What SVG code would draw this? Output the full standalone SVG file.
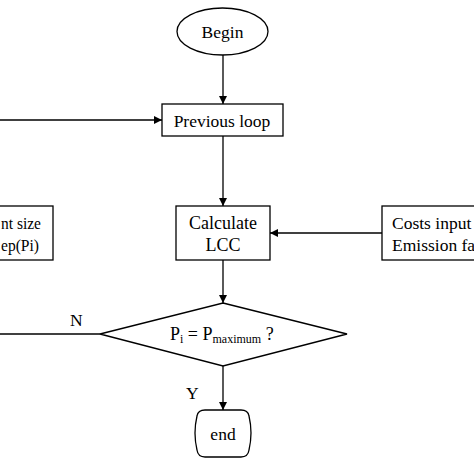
<svg xmlns="http://www.w3.org/2000/svg" width="474" height="474" viewBox="0 0 474 474">
<defs>
<marker id="ah" markerWidth="8" markerHeight="8" refX="8" refY="4" orient="auto" markerUnits="userSpaceOnUse">
<path d="M0,0 L8,4 L0,8 Z" fill="#000"/>
</marker>
<style>
.s{fill:#fff;stroke:#000;stroke-width:1.3}
.t{font-family:"Liberation Serif","Times New Roman",serif;font-size:17.5px;fill:#000}
.c{text-anchor:middle}
.l{stroke:#000;stroke-width:1.3;fill:none}
</style>
</defs>
<rect width="474" height="474" fill="#fff"/>
<g id="connectors">
<line class="l" x1="223" y1="55" x2="223" y2="104" marker-end="url(#ah)"/>
<line class="l" x1="0" y1="120" x2="162" y2="120" marker-end="url(#ah)"/>
<line class="l" x1="223" y1="136" x2="223" y2="206" marker-end="url(#ah)"/>
<line class="l" x1="382" y1="233" x2="270" y2="233" marker-end="url(#ah)"/>
<line class="l" x1="223" y1="260" x2="223" y2="303" marker-end="url(#ah)"/>
<line class="l" x1="0" y1="334" x2="100" y2="334"/>
<line class="l" x1="223" y1="366" x2="223" y2="410" marker-end="url(#ah)"/>
<text class="t" x="70" y="326">N</text>
<text class="t" x="186" y="399">Y</text>
</g>
<g id="begin">
<ellipse class="s" cx="222.5" cy="31.5" rx="45.5" ry="23.5"/>
<text class="t c" x="222.5" y="38">Begin</text>
</g>
<g id="previous-loop">
<rect class="s" x="162" y="104" width="121" height="32"/>
<text class="t c" x="222" y="127">Previous loop</text>
</g>
<g id="left-box">
<rect class="s" x="-20" y="206" width="73" height="54"/>
<text class="t" x="1" y="229" textLength="40" lengthAdjust="spacingAndGlyphs">nt size</text>
<text class="t" x="1" y="251" textLength="38" lengthAdjust="spacingAndGlyphs">ep(Pi)</text>
</g>
<g id="calculate">
<rect class="s" x="176" y="206" width="94" height="54"/>
<text class="t c" x="223" y="229" style="font-size:18px">Calculate</text>
<text class="t c" x="223" y="251" style="font-size:18px">LCC</text>
</g>
<g id="right-box">
<rect class="s" x="382" y="206" width="110" height="54"/>
<text class="t" x="392" y="229">Costs input</text>
<text class="t" x="392" y="251">Emission fa</text>
</g>
<g id="decision">
<polygon class="s" points="223,303 347,334 223,366 100,334"/>
<text class="t" x="170" y="340" style="font-size:18px">P<tspan font-size="12" dy="3">i</tspan><tspan dy="-3"> = P</tspan><tspan font-size="12" dy="3">maximum</tspan><tspan dy="-3"> ?</tspan></text>
</g>
<g id="end">
<path class="s" d="M205,410 L241,410 Q248,410 249,416 Q253,433 249,450 Q248,457 241,457 L205,457 Q198,457 197,450 Q193,433 197,416 Q198,410 205,410 Z"/>
<text class="t c" x="223" y="440">end</text>
</g>
</svg>
